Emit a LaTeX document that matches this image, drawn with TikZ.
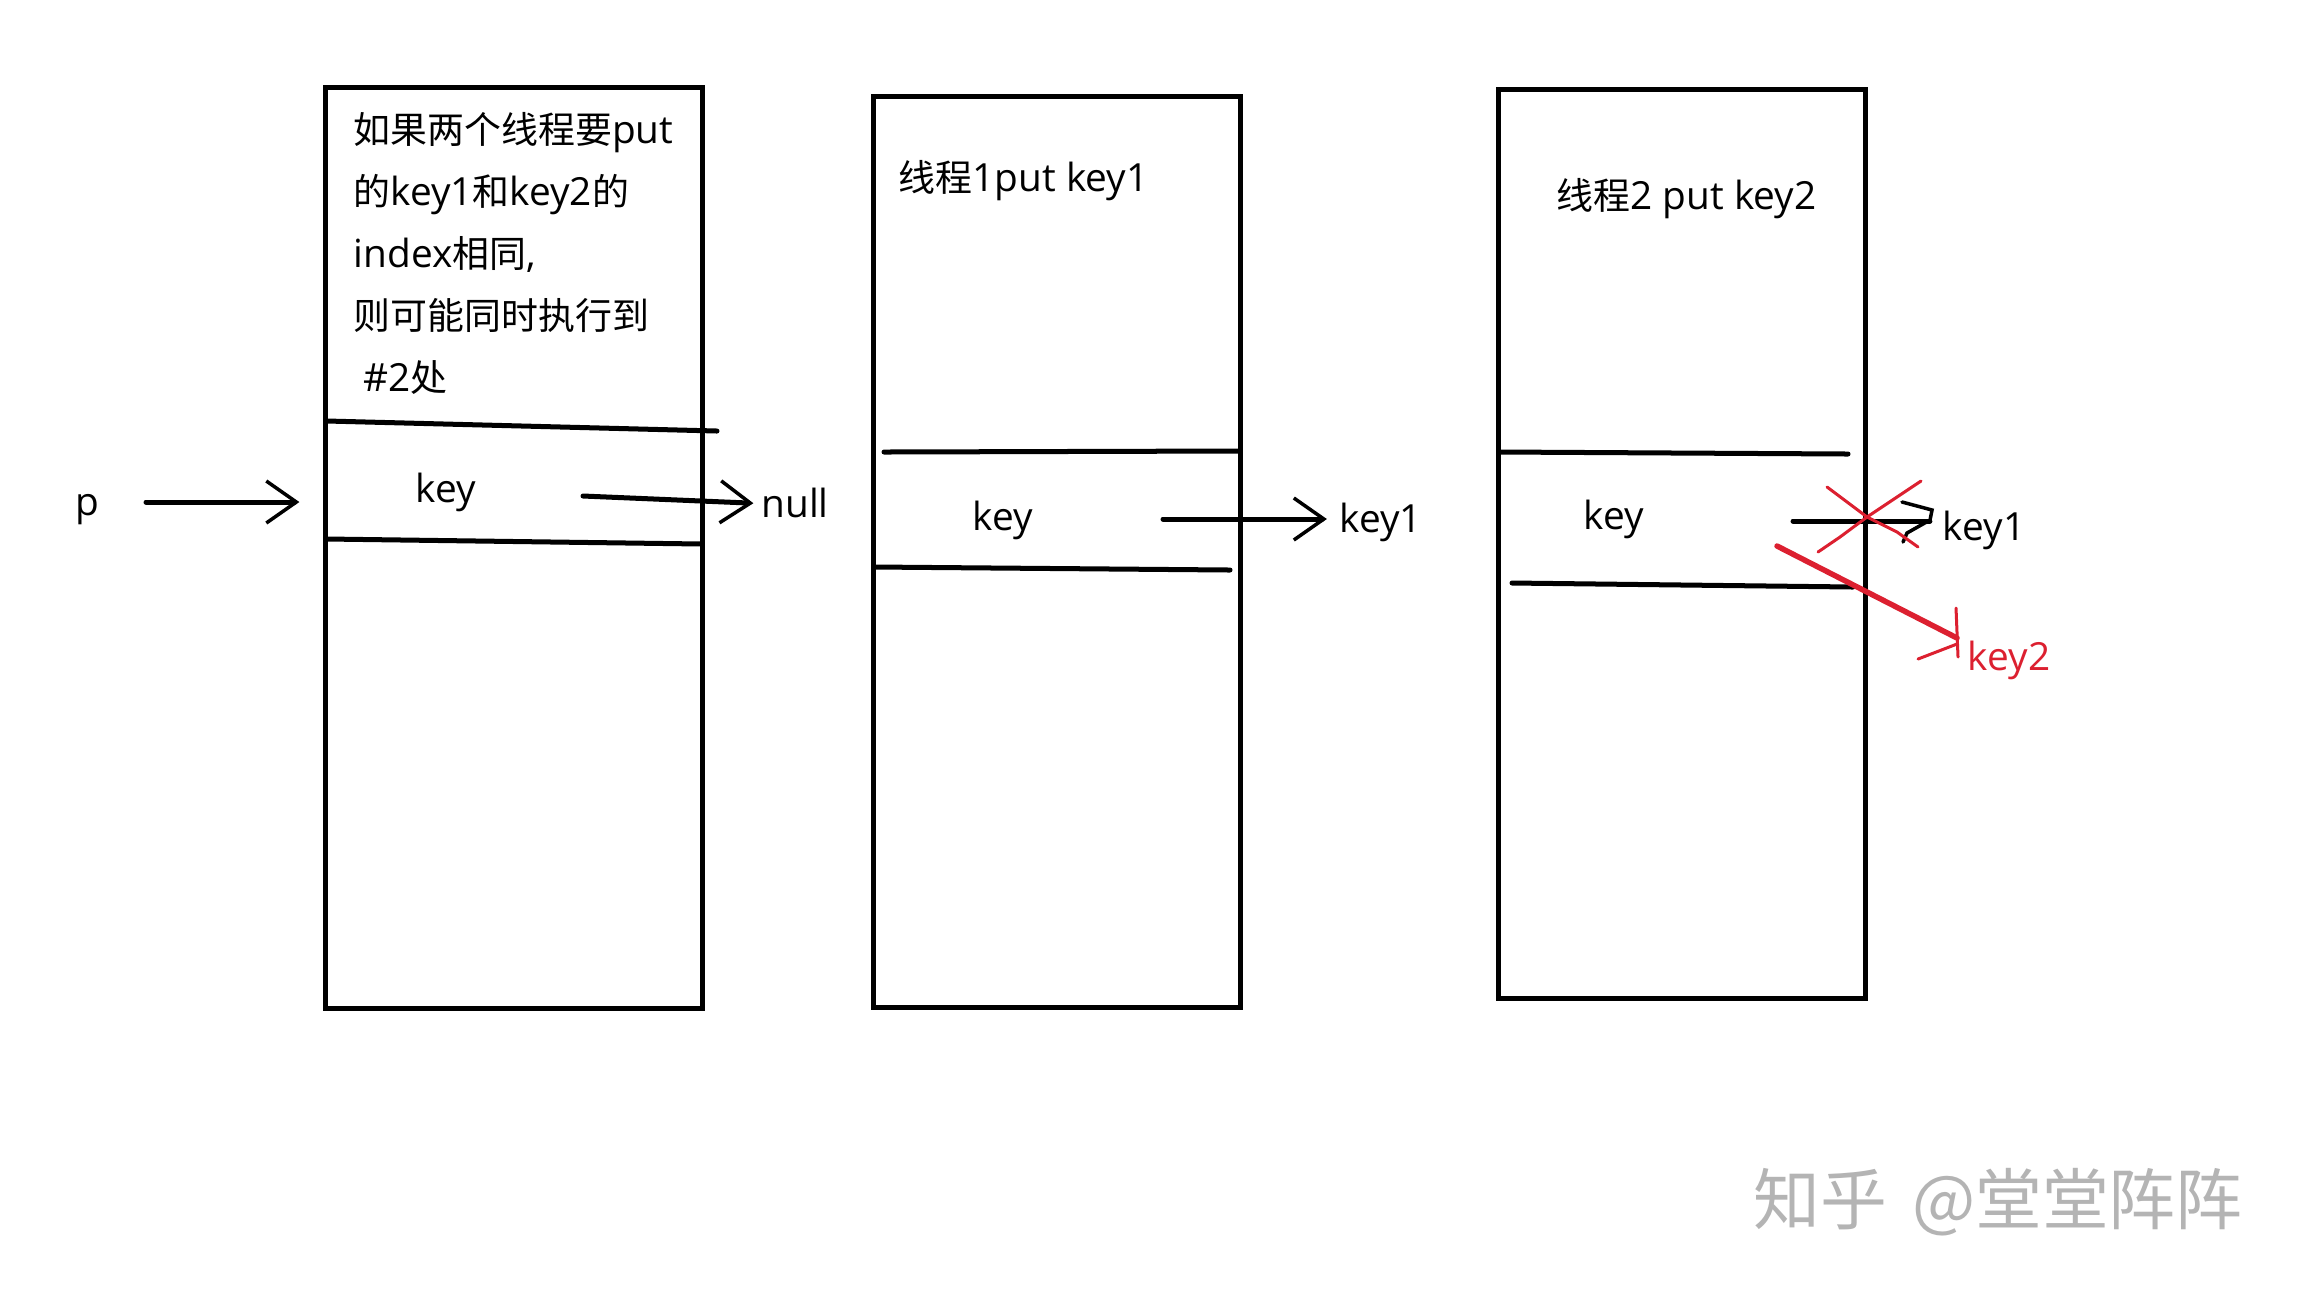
\documentclass[tikz,border=0pt]{standalone}
\usepackage{fontspec}
\setmainfont[Scale=1.05]{Open Sans}
\newfontfamily\cjk{Noto Sans CJK SC}
\usetikzlibrary{arrows.meta}
\definecolor{penred}{HTML}{DC2030}
\definecolor{markgray}{HTML}{B4B4B4}
\tikzset{
    column/.style={shape=rectangle,draw=black,line width=0.05cm},
    rowline/.style={line width=0.05cm},
    barb/.style={line width=0.05cm,-{Straight Barb[length=0.3cm,width=0.42cm,line width=0.035cm]}},
    label/.style={font=\fontsize{10.5}{13}\selectfont},
    redpen/.style={draw=penred,line width=0.03cm},
}

\begin{document}
\begin{tikzpicture}[x=0.01cm,y=-0.01cm,line cap=round]
    \useasboundingbox (0,0) rectangle (2304,1296);

    \node[column,minimum width=3.76cm,minimum height=9.2cm] (boxA) at (514,548) {};
    \node[column,minimum width=3.66cm,minimum height=9.11cm] (boxB) at (1057,552) {};
    \node[column,minimum width=3.66cm,minimum height=9.09cm] (boxC) at (1682,544) {};

    \node[anchor=north west,align=left,inner sep=0pt,font=\fontsize{10.5}{17.6}\selectfont] (noteA) at (353,112)
        {{\cjk 如果两个线程要}put\\{\cjk 的}key1{\cjk 和}key2{\cjk 的}\\index{\cjk 相同},\\{\cjk 则可能同时执行到}\\\ \#2{\cjk 处}};
    \node[label,anchor=west,inner sep=0pt] (noteB) at (898,181) {{\cjk 线程}1put key1};
    \node[label,anchor=west,inner sep=0pt] (noteC) at (1556,199) {{\cjk 线程}2 put key2};

    \node[label] (p) at (87,510) {p};
    \node[label] (keyA) at (446,492) {key};
    \node[label] (nullA) at (795,503) {null};
    \node[label] (keyB) at (1003,520) {key};
    \node[label] (key1B) at (1381,522) {key1};
    \node[label] (keyC) at (1614,519) {key};
    \node[label] (key1C) at (1984,530) {key1};
    \node[label,text=penred] (key2C) at (2009,660) {key2};

    \coordinate (fromP) at (146,502);
    \coordinate (fromA) at (583,496);
    \coordinate (fromB) at (1163,519);
    \coordinate (fromC) at (1793,521);
    \coordinate (fromR) at (1777,546);
    \coordinate (tipR) at (1957,638);

    % rows
    \draw[rowline] (327,421) -- (717,431);
    \draw[rowline] (327,539) -- (702,544);
    \draw[rowline] (884,452) -- (1238,451);
    \draw[rowline] (875,567) -- (1230,570);
    \draw[rowline] (1501,452) -- (1848,454);
    \draw[rowline] (1512,583) -- (1853,587);

    \draw[barb,shorten >=0.24cm] (fromP) -- (fromP -| boxA.west);
    \draw[barb,shorten >=-0.05cm] (fromA) -- (nullA.west);
    \draw[barb] (fromB) -- (fromB -| key1B.west);

    % crossed out key1
    \draw[rowline] (fromC) -- (fromC -| key1C.west);
    \draw[line width=0.035cm] (1902,502) -- (1932,510) -- (1930,520) -- (1907,533) -- (1903,542);
    \draw[redpen] (1827,487) -- (1867,517) -- (1897,532) -- (1918,547);
    \draw[redpen] (1921,481) -- (1867,517) -- (1840,537) -- (1818,552);

    % key2
    \draw[draw=penred,line width=0.055cm] (fromR) -- (tipR);
    \draw[redpen] (1956,608) -- (1958,657);
    \draw[redpen] (1918,659) -- (1957,644);

    \node[text=markgray,font=\cjk\fontsize{19}{22}\selectfont] (mark) at (1998,1202) {知乎\hspace{0.1cm} @堂堂阵阵};
\end{tikzpicture}
\end{document}
